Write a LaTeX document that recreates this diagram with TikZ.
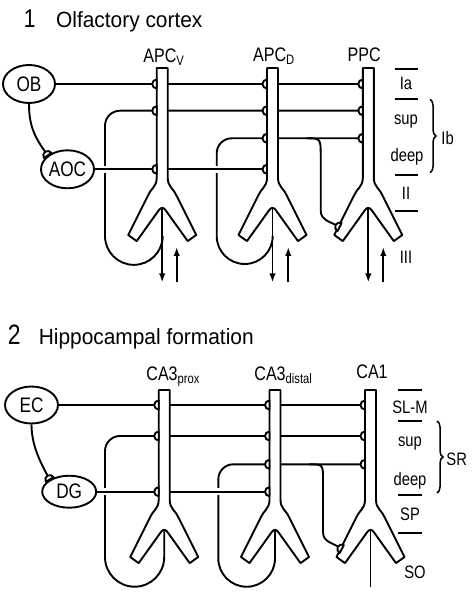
\documentclass[tikz,border=0pt]{standalone}
\usepackage{fontspec}
\setmainfont{Liberation Sans}[FakeStretch=0.82]
\newfontfamily\titlefont{Liberation Sans}[FakeStretch=0.95]
\usetikzlibrary{shapes.geometric,decorations.pathreplacing,arrows.meta}

\tikzset{
  fibre/.style={line width=0.95pt},
  crossfibre/.style={fibre, preaction={draw=white, line width=3.5pt, shorten <=3pt}},
  fibrearrow/.style={line width=0.95pt, -{Latex[length=4.5pt,width=3.2pt]}},
  cellbody/.style={line width=0.95pt, fill=white, line join=round},
  region/.style={ellipse, draw, line width=0.95pt, inner sep=0pt,
    minimum width=26pt, minimum height=19pt, font=\fontsize{10.5}{10.5}\selectfont},
  heading/.style={anchor=base west, inner sep=0pt, font=\titlefont\fontsize{11}{11}\selectfont},
  cellname/.style={anchor=base west, inner sep=0pt, font=\fontsize{9.8}{9.8}\selectfont},
  layer/.style={anchor=base, inner sep=0pt, font=\fontsize{9}{9}\selectfont},
  layerbar/.style={line width=0.95pt},
  brace/.style={decorate, decoration={brace, amplitude=3pt}, line width=0.75pt},
  pics/pyramid/.style={code={
    \draw[cellbody] (-5.5,0) -- (-5.5,110) .. controls (-5.5,119) and (-12,121) .. (-14.5,128)
      -- (-34,167) -- (-25.5,173.1) -- (-3.6,142.5) .. controls (-1.5,139) and (1.5,139) .. (3.6,142.5)
      -- (25.5,173.1) -- (34,167) -- (14.5,128) .. controls (12,121) and (5.5,119) .. (5.5,110)
      -- (5.5,0) -- cycle;
  }},
  pics/syn/.style={code={
    \draw[cellbody] ({#1-90}:4.5) arc[start angle={#1-90}, end angle={#1+90}, radius=4.5] -- cycle;
  }}
}

\begin{document}
\begin{tikzpicture}[x=0.5pt,y=-0.5pt]
\useasboundingbox (0,0) rectangle (474,603);

% 1 Olfactory cortex
\node[heading, font=\fontsize{12.8}{12.8}\selectfont] (num1) at (23.6,27.3) {1};
\node[heading] (title1) at (55.7,27.3) {Olfactory cortex};

\node[region] (OB) at (29,84) {\makebox[0pt]{OB}};
\node[region, minimum width=26.5pt] (AOC) at (67.5,169.3) {\makebox[0pt]{AOC}};

\node[cellname] (nAPCV) at (143,62.5) {APC\textsubscript{V}};
\node[cellname] (nAPCD) at (252.7,61.7) {APC\textsubscript{D}};
\node[cellname] (nPPC) at (347.3,61.7) {PPC};

\coordinate (v1) at (156.7,84);  \coordinate (v2) at (156.7,110.7); \coordinate (v3) at (156.7,169.3);
\coordinate (d1) at (267,84);    \coordinate (d2) at (267,110.7);   \coordinate (d3) at (267,138.3);
\coordinate (d4) at (267,169.3);
\coordinate (p1) at (362.8,84);  \coordinate (p2) at (362.8,110.7); \coordinate (p3) at (362.8,138.3);
\coordinate (parm) at (339.6,227);
\path (AOC.145) coordinate (aocsyn);

% association loops
\draw[fibre] (162.7,236) arc[start angle=0, end angle=180, radius=28.85]
  -- (105,125.7) arc[start angle=180, end angle=270, radius=15] -- (p2);
\draw[fibre] (272.7,236) arc[start angle=0, end angle=180, radius=28]
  -- (216.7,153.3) arc[start angle=180, end angle=270, radius=15] -- (p3);
\draw[fibre] (306,138.3) .. controls (320.7,138.3) .. (320.7,156) -- (320.7,211)
  .. controls (320.7,221) and (333,222.5) .. (parm);

% afferents
\draw[fibre] (OB) -- (p1);
\draw[crossfibre] (AOC) -- (d4);
\draw[fibre] (OB.south) .. controls (29,128) and (36,139) .. (aocsyn);

\pic at (162.2,68) {pyramid};
\pic at (272.5,68) {pyramid};
\pic at (368.3,68) {pyramid};
\foreach \s in {v1,v2,v3,d1,d2,d3,d4,p1,p2,p3}
  \pic at (\s) {syn=180};
\pic at (parm) {syn=207};
\pic at (aocsyn) {syn=234};

\draw[fibrearrow] (162.2,208) -- (162.2,282.5);
\draw[fibrearrow] (176.7,282.5) -- (176.7,247);
\draw[fibrearrow] (272.5,208) -- (272.5,282.5);
\draw[fibrearrow] (288.3,282.5) -- (288.3,247);
\draw[fibrearrow] (368.3,208) -- (368.3,282.5);
\draw[fibrearrow] (383.3,282.5) -- (383.3,247);

% layers
\foreach \y in {69.3,99.3,175,211}
  \draw[layerbar] (395,\y) -- (418,\y);
\node[layer] (la) at (406,90) {Ia};
\node[layer] (lsup) at (406,125) {sup};
\node[layer] (ldeep) at (407,161.7) {deep};
\node[layer] (lII) at (406,200) {II};
\node[layer] (lIII) at (406,263.3) {III};
\draw[brace] (430,99.3) -- (430,172.7);
\node[layer, anchor=base west] (lIb) at (441,145) {Ib};

% 2 Hippocampal formation
\node[heading, font=\fontsize{14}{14}\selectfont] (num2) at (7.6,344) {2};
\node[heading] (title2) at (38.4,344) {Hippocampal formation};

\node[region, minimum width=26.5pt, minimum height=18.5pt] (EC) at (31.5,405) {\makebox[0pt]{EC}};
\node[region, minimum width=27pt, minimum height=16pt] (DG) at (69.2,491.7) {\makebox[0pt]{DG}};

\node[cellname] (nCA3p) at (146,380) {CA3\textsubscript{prox}};
\node[cellname] (nCA3d) at (254,380) {CA3\textsubscript{distal}};
\node[cellname] (nCA1) at (356,378.5) {CA1};

\coordinate (x1) at (158.7,405); \coordinate (x2) at (158.7,436); \coordinate (x3) at (158.7,491.7);
\coordinate (y1) at (269.5,405); \coordinate (y2) at (269.5,436); \coordinate (y3) at (269.5,464.3);
\coordinate (y4) at (269.5,491.7);
\coordinate (z1) at (365,405);   \coordinate (z2) at (365,436);   \coordinate (z3) at (365,464.3);
\coordinate (zarm) at (341.8,549);
\path (DG.148) coordinate (dgsyn);

% recurrent collaterals
\draw[fibre] (164.2,530) -- (164.2,557.1) arc[start angle=0, end angle=180, radius=29.6]
  -- (105,451) arc[start angle=180, end angle=270, radius=15] -- (z2);
\draw[fibre] (275,530) -- (275,558.4) arc[start angle=0, end angle=180, radius=28.35]
  -- (218.3,479.3) arc[start angle=180, end angle=270, radius=15] -- (z3);
\draw[fibre] (309,464.3) .. controls (323,464.3) .. (323,480) -- (323,532)
  .. controls (323,543) and (334,542.7) .. (zarm);

% afferents
\draw[fibre] (EC) -- (z1);
\draw[crossfibre] (DG) -- (y4);
\draw[fibre] (EC.south) .. controls (31.5,445) and (40,462) .. (dgsyn);

\pic at (164.2,390) {pyramid};
\pic at (275,390) {pyramid};
\pic at (370.5,390) {pyramid};
\foreach \s in {x1,x2,x3,y1,y2,y3,y4,z1,z2,z3}
  \pic at (\s) {syn=180};
\pic at (zarm) {syn=207};
\pic at (dgsyn) {syn=240.6};

\draw[fibre] (370.5,530) -- (370.5,587);

% layers
\foreach \y in {390,421,495,532.7}
  \draw[layerbar] (398,\y) -- (422,\y);
\node[layer] (lslm) at (410,413.3) {SL-M};
\node[layer] (lsup2) at (410,446.7) {sup};
\node[layer] (ldeep2) at (410,485) {deep};
\node[layer] (lsp) at (410,520) {SP};
\node[layer] (lso) at (415,578.3) {SO};
\draw[brace] (437,421) -- (437,493);
\node[layer, anchor=base west] (lsr) at (446,465) {SR};
\end{tikzpicture}
\end{document}
